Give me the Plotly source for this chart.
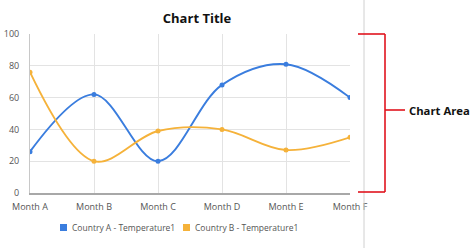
import plotly.graph_objects as go

months = ["Month A", "Month B", "Month C", "Month D", "Month E", "Month F"]
country_a = [26, 62, 20, 68, 81, 60]
country_b = [76, 20, 39, 40, 27, 35]
name_a = "Country A - Temperature1"
name_b = "Country B - Temperature1"
blue = "#3A7DDE"
orange = "#F5B23A"

fig = go.Figure()
for vals, col, nm in [(country_a, blue, name_a), (country_b, orange, name_b)]:
    fig.add_trace(go.Scatter(x=months, y=vals, mode="lines+markers", name=nm,
                             line=dict(color=col, width=1.9, shape="spline", smoothing=1.0),
                             marker=dict(size=5, color=col), showlegend=False, cliponaxis=True))

L, R, T, B = 30, 124, 34, 55
W, H = 474, 248
pw, ph = W - L - R, H - T - B
def px(x):
    return (x - L) / pw
def py(y):
    return (H - B - y) / ph

red = "#E0141E"
shapes = [
    dict(type="line", xref="paper", yref="paper", x0=px(364), x1=px(364), y0=py(0), y1=py(248),
         line=dict(color="#D0D0D0", width=1)),
    dict(type="line", xref="paper", yref="paper", x0=px(358), x1=px(385), y0=py(34), y1=py(34),
         line=dict(color=red, width=1.6)),
    dict(type="line", xref="paper", yref="paper", x0=px(358), x1=px(385), y0=py(192), y1=py(192),
         line=dict(color=red, width=1.6)),
    dict(type="line", xref="paper", yref="paper", x0=px(385), x1=px(385), y0=py(34), y1=py(192),
         line=dict(color=red, width=1.6)),
    dict(type="line", xref="paper", yref="paper", x0=px(385), x1=px(405), y0=py(110), y1=py(110),
         line=dict(color=red, width=1.6)),
]
annotations = [dict(text="<b>Chart Area</b>", xref="paper", yref="paper", x=px(407), y=py(110),
                    xanchor="left", yanchor="middle", showarrow=False,
                    font=dict(size=11.3, color="#111"))]

# custom legend (square swatches + labels)
for nm, col, sx in [(name_a, blue, 60), (name_b, orange, 183)]:
    shapes.append(dict(type="rect", xref="paper", yref="paper", x0=px(sx), x1=px(sx + 7),
                       y0=py(231), y1=py(224), fillcolor=col, line=dict(width=0)))
    annotations.append(dict(text=nm, xref="paper", yref="paper", x=px(sx + 10), y=py(227.5),
                            xanchor="left", yanchor="middle", showarrow=False,
                            font=dict(size=8.5, color="#555")))

fig.update_layout(
    width=W, height=H,
    margin=dict(l=L, r=R, t=T, b=B),
    paper_bgcolor="white", plot_bgcolor="white",
    font=dict(family="Open Sans", size=9, color="#444"),
    title=dict(text="<b>Chart Title</b>", x=197 / W, xanchor="center", y=1 - 18 / H, yanchor="middle",
               font=dict(size=13, color="#111")),
    xaxis=dict(type="category", range=[0, 5], showgrid=True, gridcolor="#E3E3E3", gridwidth=1,
               showline=True, linecolor="#A8A8A8", linewidth=1.5, ticks="", tickfont=dict(size=9, color="#555"),
               zeroline=False, fixedrange=True, automargin=False, ticklabelstandoff=4),
    yaxis=dict(range=[0, 100], dtick=20, showgrid=True, gridcolor="#E3E3E3", gridwidth=1,
               showline=True, linecolor="#C8C8C8", linewidth=1, ticks="", zeroline=False,
               tickfont=dict(size=9, color="#555"), ticklabelstandoff=8, automargin=False),
    showlegend=False,
    shapes=shapes,
    annotations=annotations,
)

fig.write_html("out.html")
